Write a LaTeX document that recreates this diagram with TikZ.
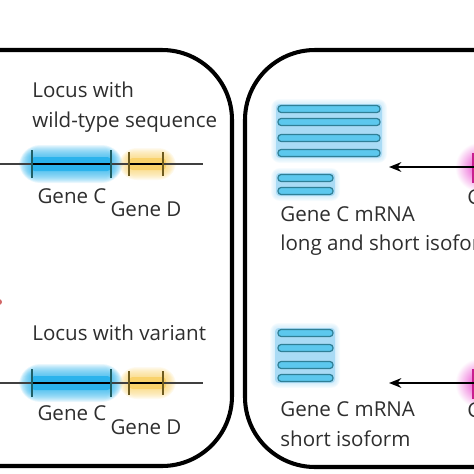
\documentclass[tikz,border=0pt]{standalone}
\usepackage{fontspec}
\setmainfont{Open Sans}
\usetikzlibrary{arrows.meta}
\definecolor{geneBlue}{HTML}{2BB3EC}
\definecolor{geneGold}{HTML}{F9D26B}
\definecolor{tickTeal}{HTML}{1E5F66}
\definecolor{tickOlive}{HTML}{6E5B1E}
\definecolor{mrnaBlue}{HTML}{5CC8EE}
\definecolor{mrnaEdge}{HTML}{2F7F96}
\definecolor{haloBlue}{HTML}{A9DBF5}
\definecolor{glowPink}{HTML}{E83CCB}
\definecolor{barPink}{HTML}{C8208E}
\definecolor{txtGray}{HTML}{2E2E2E}

% soft glow: colour, core box x1,y1,x2,y2, spread
\newcommand\glowbox[6]{%
  \fill[#1, rounded corners=2pt] (#2,#3) rectangle (#4,#5);
  \foreach \g in {1,...,#6}{
    \fill[#1, opacity=0.1, rounded corners=\g pt] ({#2-\g},{#3-\g}) rectangle ({#4+\g},{#5+\g});
  }%
}

\begin{document}
\begin{tikzpicture}[
    x=0.02cm, y=-0.02cm,
    panel/.style={line width=2.3pt, rounded corners=1.4cm},
    locus/.style={line width=0.8pt, draw=black!75},
    exon/.style={line width=1.7pt, draw=black},
    tickC/.style={line width=1.2pt, draw=tickTeal},
    tickD/.style={line width=1.2pt, draw=tickOlive},
    mrna/.style={fill=mrnaBlue, draw=mrnaEdge, line width=0.7pt, rounded corners=1.8pt},
    lbl/.style={text=txtGray, font=\fontsize{11.7}{17}\selectfont, inner sep=0pt, align=left},
    arr/.style={line width=1.1pt, -{Stealth[length=7pt, width=5.5pt]}},
  ]
  \useasboundingbox (0,0) rectangle (474,474);

  % the two panels
  \draw[panel] (-100,50) rectangle (232,466);
  \draw[panel] (245,50) rectangle (560,467);

  % left panel: loci
  \node[lbl, anchor=west] (wtTitle) at (32,107) {Locus with\\wild-type sequence};
  \node[lbl, anchor=west] (varTitle) at (32,333) {Locus with variant};

  \foreach \ly/\cy/\dy/\n in {164/196/209/wt, 383/413/427/var}{
    \glowbox{geneBlue}{31}{\ly-7}{111}{\ly+7}{12}
    \glowbox{geneGold}{129}{\ly-6}{166}{\ly+6}{10}
    \draw[locus] (0,\ly) -- (203,\ly);
    \draw[exon] (32,\ly) -- (111,\ly);
    \draw[exon] (129,\ly) -- (163,\ly);
    \draw[tickC] (32,\ly-14) -- (32,\ly+14);
    \draw[tickC] (111,\ly-14) -- (111,\ly+14);
    \draw[tickD] (129,\ly-12) -- (129,\ly+12);
    \draw[tickD] (163,\ly-12) -- (163,\ly+12);
    \node[lbl] (geneC\n) at (72,\cy) {Gene C};
    \node[lbl] (geneD\n) at (146,\dy) {Gene D};
  }

  % stray red mark at the left edge
  \fill[red!70!black, opacity=0.6] (-1,302) circle (3);

  % right panel: mRNA isoforms
  \glowbox{haloBlue}{276}{104}{382}{158}{5}
  \glowbox{haloBlue}{276}{173}{335}{196}{5}
  \glowbox{haloBlue}{275}{328}{335}{383}{5}
  \foreach \by in {109,122,138,153}{
    \draw[mrna] (278,\by-3.5) rectangle (380,\by+3.5);
  }
  \foreach \by in {178,191,333,348,365,378}{
    \draw[mrna] (278,\by-3.5) rectangle (333,\by+3.5);
  }

  \node[lbl, anchor=west] (longTxt) at (280,231) {Gene C mRNA\\long and short isoform};
  \node[lbl, anchor=west] (shortTxt) at (280,424) {Gene C mRNA\\short isoform};

  % sources at the right edge
  \foreach \sy/\ty/\n in {167/197/A, 383/410/B}{
    \shade[inner color=glowPink, outer color=white] (480,\sy) circle (25);
    \fill[barPink] (472,\sy-14) rectangle (478,\sy+16);
    \coordinate (src\n) at (474,\sy);
    \coordinate (iso\n) at (389,\sy);
    \draw[arr] (src\n) -- (iso\n);
    \node[lbl, anchor=west] (cut\n) at (467,\ty) {Gene C};
  }
\end{tikzpicture}
\end{document}
